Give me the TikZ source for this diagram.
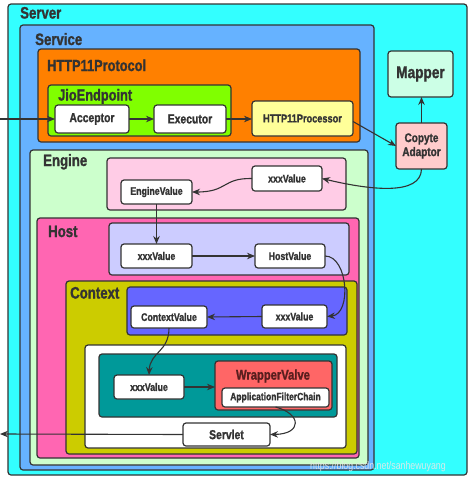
\documentclass[tikz,border=0pt]{standalone}
\usepackage{fontspec}
\setmainfont{Liberation Sans}[FakeStretch=0.8, BoldFeatures={FakeBold=1.3}]
\usetikzlibrary{arrows.meta,calc}
\definecolor{ln}{HTML}{333333}
\definecolor{tx}{HTML}{333333}
\definecolor{cServer}{HTML}{33FFFF}
\definecolor{cService}{HTML}{66B2FF}
\definecolor{cProto}{HTML}{FF8000}
\definecolor{cEnd}{HTML}{80FF00}
\definecolor{cProc}{HTML}{FFFF99}
\definecolor{cMap}{HTML}{CCFFE6}
\definecolor{cAdapt}{HTML}{FFCCCC}
\definecolor{cEngine}{HTML}{CCFFCC}
\definecolor{cEPipe}{HTML}{FFCCE6}
\definecolor{cHost}{HTML}{FF66B2}
\definecolor{cHPipe}{HTML}{CCCCFF}
\definecolor{cCtx}{HTML}{CCCC00}
\definecolor{cCPipe}{HTML}{6666FF}
\definecolor{cTeal}{HTML}{009999}
\definecolor{cWrap}{HTML}{FF6666}
\definecolor{cWrapTx}{HTML}{5A1E1E}
\begin{document}
\begin{tikzpicture}[x=1pt,y=-1pt,
 box/.style={draw=ln, line width=1.2pt, rounded corners=3pt, anchor=north west, inner sep=0pt, outer sep=0pt, text=tx},
 ttl/.style={anchor=base west, inner sep=0pt, font=\fontsize{16.5}{18}\selectfont\bfseries, text=tx},
 lbl/.style={font=\fontsize{11}{13}\selectfont\bfseries},
 mid/.style={font=\fontsize{13}{15}\selectfont\bfseries},
 arr/.style={draw=ln, line width=1.1pt, -{Stealth[length=8pt,width=6.5pt]}},
]
\useasboundingbox (0,0) rectangle (474,480);
\fill[white] (0,0) rectangle (474,480);
% containers
\node[box, fill=cServer, minimum width=459pt, minimum height=471pt] (server) at (8,4) {};
\node[ttl] (serverT) at (20,18.5) {Server};
\node[box, fill=cService, minimum width=354pt, minimum height=445pt] (service) at (20,25) {};
\node[ttl] (serviceT) at (35,45) {Service};
\node[box, fill=cProto, minimum width=322pt, minimum height=93pt] (protocol) at (38,49) {};
\node[ttl, font=\fontsize{16}{18}\selectfont\bfseries] (protocolT) at (47,71) {HTTP11Protocol};
\node[box, fill=cEnd, minimum width=183pt, minimum height=51pt] (endpoint) at (48,85) {};
\node[ttl, font=\fontsize{16}{18}\selectfont\bfseries] (endpointT) at (58,100.5) {JioEndpoint};
\node[box, fill=white, mid, minimum width=74pt, minimum height=28pt] (acceptor) at (55,105) {Acceptor};
\node[box, fill=white, mid, minimum width=72pt, minimum height=28pt] (executor) at (154,105) {Executor};
\node[box, fill=cProc, font=\fontsize{11.5}{13}\selectfont\bfseries, minimum width=101pt, minimum height=35pt] (processor) at (252,101) {HTTP11Processor};
\node[box, fill=cMap, font=\fontsize{17}{19}\selectfont\bfseries, minimum width=65pt, minimum height=46pt] (mapper) at (388,51) {Mapper};
\node[box, fill=cAdapt, align=center, font=\fontsize{12.5}{14}\selectfont\bfseries, minimum width=51pt, minimum height=46pt] (adaptor) at (396,123) {Copyte\\Adaptor};
% engine
\node[box, fill=cEngine, minimum width=338pt, minimum height=315pt] (engine) at (30,150) {};
\node[ttl] (engineT) at (43,166) {Engine};
\node[box, fill=cEPipe, minimum width=239pt, minimum height=52pt] (enginepipe) at (107,158) {};
\node[box, fill=white, lbl, minimum width=71pt, minimum height=24pt] (enginevalue) at (121,180) {EngineValue};
\node[box, fill=white, lbl, minimum width=70pt, minimum height=25pt] (exv) at (252,166) {xxxValue};
% host
\node[box, fill=cHost, minimum width=322pt, minimum height=240pt] (host) at (37,218) {};
\node[ttl] (hostT) at (48,237) {Host};
\node[box, fill=cHPipe, minimum width=240pt, minimum height=52pt] (hostpipe) at (109,223) {};
\node[box, fill=white, lbl, minimum width=71pt, minimum height=24pt] (hxv) at (121,244) {xxxValue};
\node[box, fill=white, lbl, minimum width=70pt, minimum height=24pt] (hostvalue) at (255,244) {HostValue};
% context
\node[box, fill=cCtx, minimum width=291pt, minimum height=173pt] (context) at (66,281) {};
\node[ttl] (contextT) at (70,298.5) {Context};
\node[box, fill=cCPipe, minimum width=220pt, minimum height=48pt] (ctxpipe) at (127,287) {};
\node[box, fill=white, lbl, minimum width=76pt, minimum height=22pt] (contextvalue) at (131,306) {ContextValue};
\node[box, fill=white, lbl, minimum width=65pt, minimum height=23pt] (cxv) at (262,305) {xxxValue};
% wrapper
\node[box, fill=white, minimum width=261pt, minimum height=103pt] (wrapbox) at (85,345) {};
\node[box, fill=cTeal, minimum width=238pt, minimum height=63pt] (teal) at (99,354) {};
\node[box, fill=white, lbl, minimum width=70pt, minimum height=24pt] (wxv) at (114,375) {xxxValue};
\node[box, fill=cWrap, minimum width=117pt, minimum height=49pt] (wrappervalve) at (215,361) {};
\node[font=\fontsize{14}{16}\selectfont\bfseries, text=cWrapTx, inner sep=0pt] (wrapperT) at (273,376) {WrapperValve};
\node[box, fill=white, font=\fontsize{10.6}{12}\selectfont\bfseries, minimum width=107pt, minimum height=19pt] (afc) at (222,388) {ApplicationFilterChain};
\node[box, fill=white, mid, minimum width=87pt, minimum height=23pt] (servlet) at (183,423) {Servlet};
% watermark
\node[anchor=west, inner sep=0pt, font=\fontsize{11}{12}\selectfont, text=white!82!gray, opacity=0.9] (wm) at (310,467) {https://blog.csdn.net/sanhewuyang};
% connectors
\coordinate (in) at (0,119);
\coordinate (out) at (0,434);
\draw[arr] (in) -- (acceptor.west);
\draw[arr] (acceptor.east) -- (executor.west);
\draw[arr] (executor.east) -- (executor.east -| processor.west);
\draw[arr] ($(processor.east)+(0,3)$) -- (adaptor.west);
\draw[arr] (adaptor.north) -- (adaptor.north |- mapper.south);
\draw[arr] (adaptor.south) .. controls (421,196) and (370,190) .. (exv.east);
\draw[arr] (exv.west) .. controls (222,178) and (228,192) .. (enginevalue.east);
\draw[arr] (enginevalue.south) -- (hxv.north);
\draw[arr] (hxv.east) -- (hostvalue.west);
\draw[arr] (hostvalue.east) .. controls (348,256) and (352,314) .. (cxv.east);
\draw[arr] (cxv.west) -- (contextvalue.east);
\draw[arr] (contextvalue.south) .. controls (169,352) and (150,352) .. (wxv.north);
\draw[arr] (wxv.east) -- (wxv.east -| wrappervalve.west);
\draw[arr] (afc.south) .. controls (302,414) and (302,434) .. (servlet.east);
\draw[arr] (servlet.west) -- (out);
\end{tikzpicture}
\end{document}
